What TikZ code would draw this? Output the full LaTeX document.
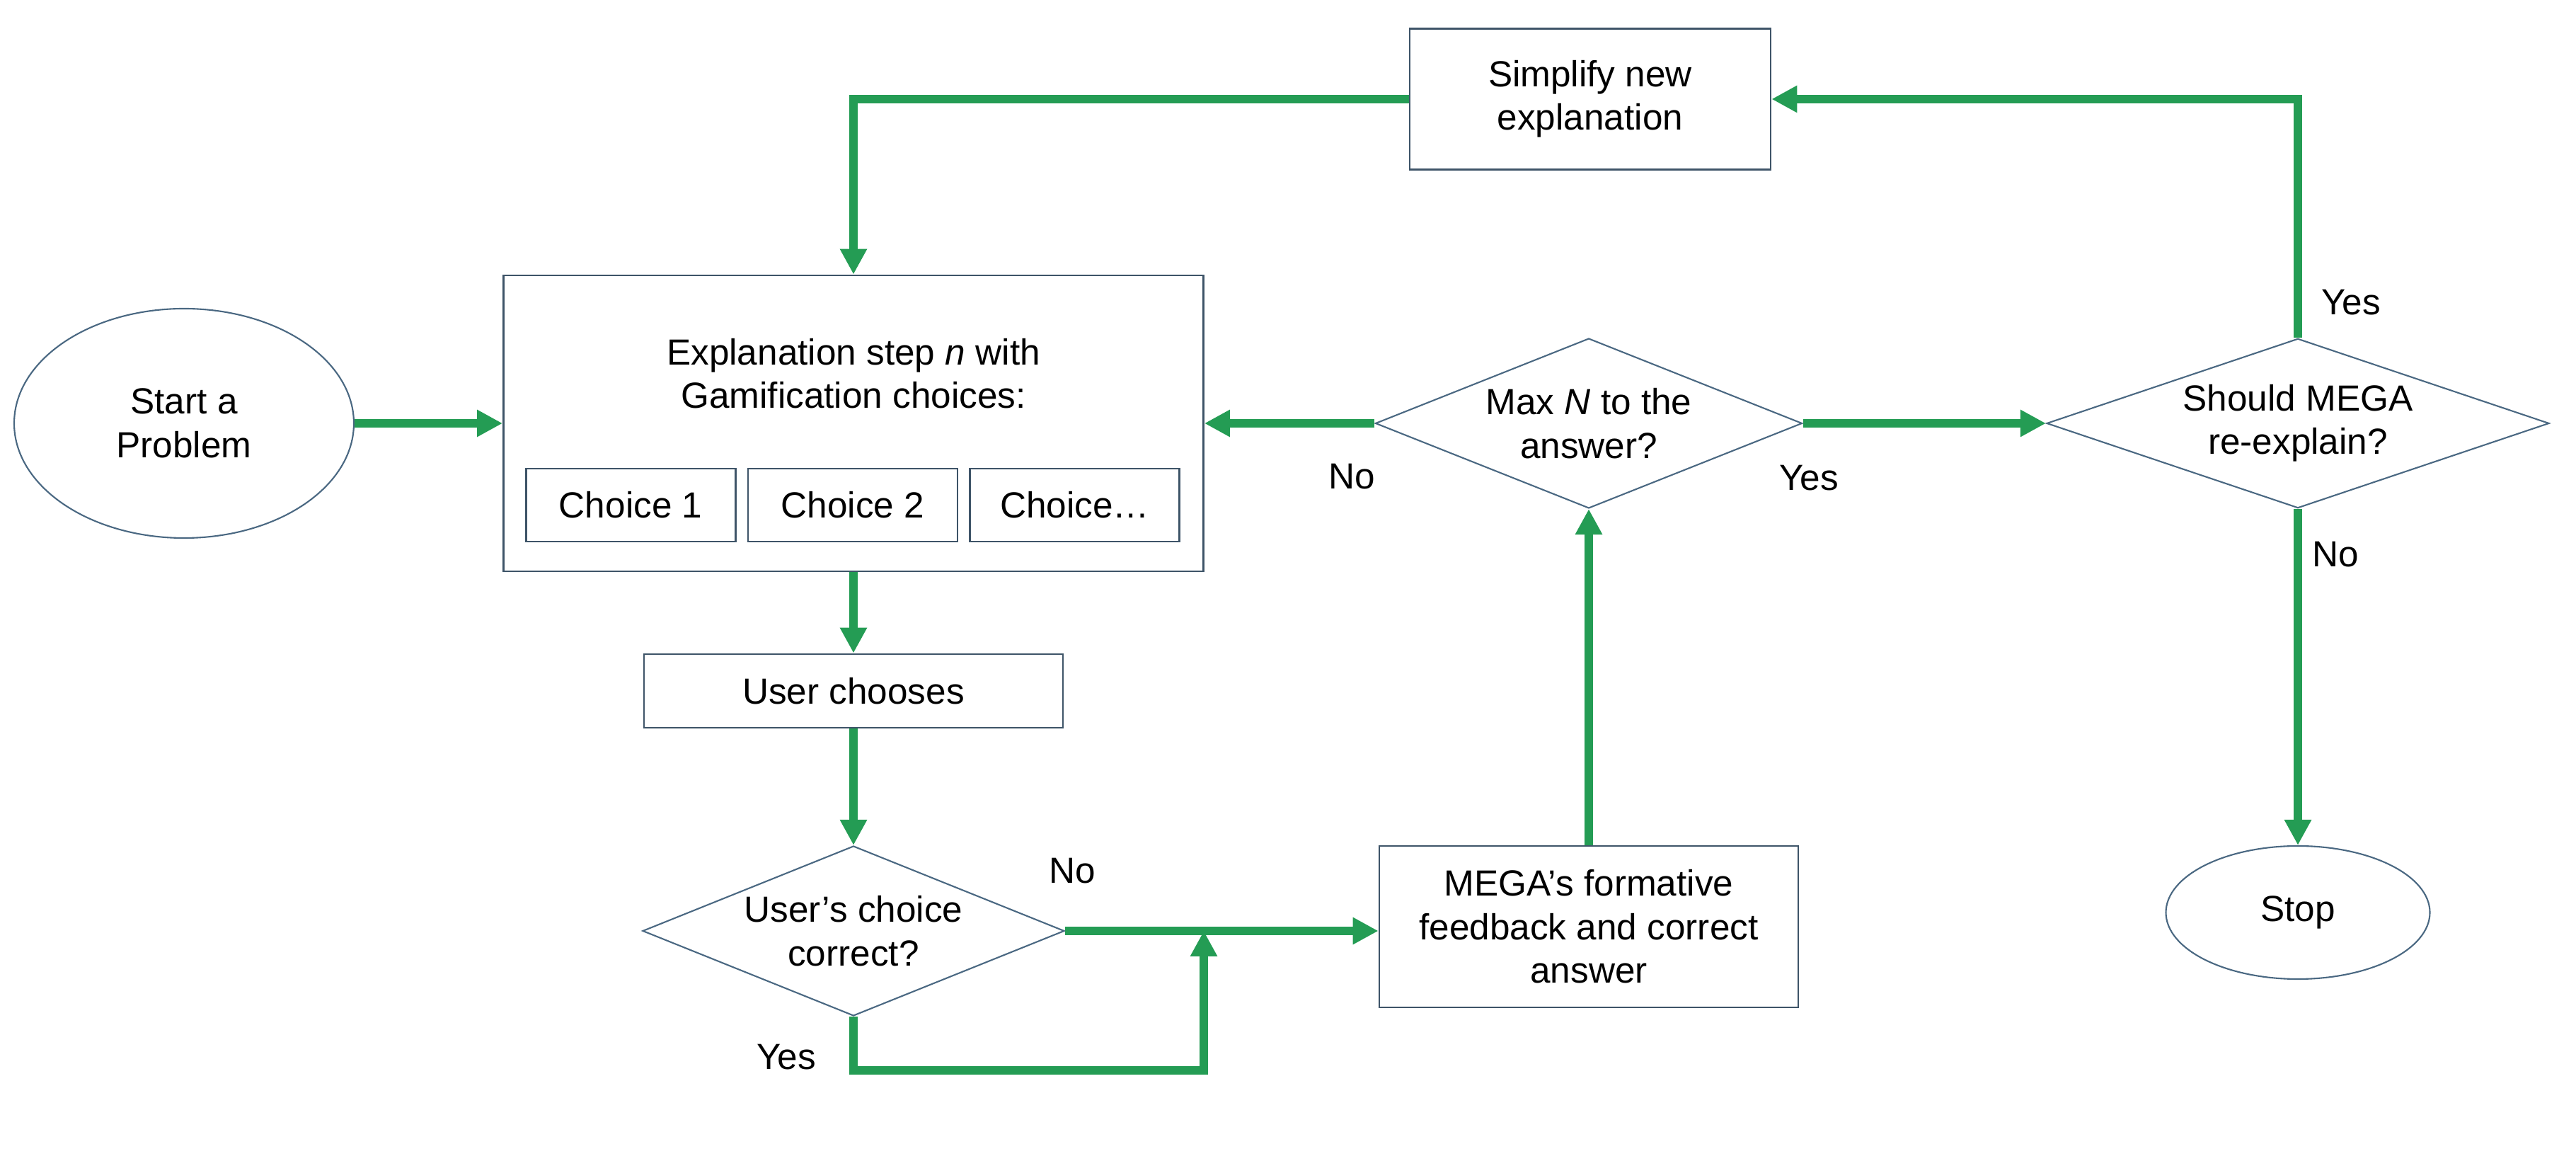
\documentclass[tikz,border=0pt]{standalone}
\usepackage{fontspec}
\setmainfont{Liberation Sans}
\usetikzlibrary{positioning,shapes.geometric,arrows.meta}
\definecolor{flowgreen}{RGB}{36,156,84}
\definecolor{boxline}{RGB}{62,84,104}
\definecolor{diamline}{RGB}{74,104,130}

\begin{document}
\begin{tikzpicture}[%
    >={Triangle[length=3.6mm,width=3.6mm]},
    every node/.style={font=\fontsize{14.6}{17.5}\selectfont},
    flow/.style={->,draw=flowgreen,line width=3.4pt},
    procbox/.style={%
      rectangle,
      draw=boxline,
      line width=0.8pt,
      align=center,
      inner sep=0pt
    },
    choicebox/.style={procbox,minimum width=2.96cm,minimum height=1.03cm},
    decision/.style={%
      diamond,
      aspect=2.5,
      draw=diamline,
      line width=0.6pt,
      align=center,
      inner sep=0pt
    },
    terminal/.style={ellipse,draw=diamline,line width=0.6pt,align=center,inner sep=0pt},
    answer/.style={inner sep=0pt}
  ]
    \useasboundingbox[fill=white] (0,0) rectangle (36.4,16.4);

    \node[terminal,minimum width=4.8cm,minimum height=3.24cm] (start) at (2.6,10.42)  {Start a\\Problem};
    \node[procbox,minimum width=9.89cm,minimum height=4.18cm] (expl) at (12.06,10.42) {};
    \node (expltext) at ([yshift=-1.4cm]expl.north) [align=center] {Explanation step \textit{n} with\\Gamification choices:};
    \node[choicebox] (choice2) at (12.05,9.265)                      {Choice 2};
    \node[choicebox] (choice1) [node distance=0.15cm,left=of choice2]  {Choice 1};
    \node[choicebox] (choice3) [node distance=0.15cm,right=of choice2] {Choice…};
    \node[procbox,minimum width=5.92cm,minimum height=1.04cm] (user) at (12.06,6.64) {User chooses};
    \node[decision,minimum width=5.96cm,minimum height=2.4cm] (ucheck) at (12.06,3.25) {User’s choice\\correct?};
    \node[procbox,minimum width=5.92cm,minimum height=2.28cm] (mega) at (22.45,3.31) {MEGA’s formative\\feedback and correct\\answer};
    \node[decision,minimum width=6.03cm,minimum height=2.4cm] (maxn) at (22.45,10.42) {Max \textit{N} to the\\answer?};
    \node[decision,minimum width=7.1cm,minimum height=2.37cm] (should) at (32.47,10.42) {Should MEGA\\re-explain?};
    \node[procbox,minimum width=5.1cm,minimum height=1.99cm] (simp) at (22.47,15.0) {Simplify new\\explanation};
    \node[terminal,minimum width=3.73cm,minimum height=1.88cm] (stop) at (32.47,3.51) {Stop};

    \coordinate (yesturn) at (17.01,1.28);

    % branch labels
    \node[answer] (nouser)    at (15.15,4.1)   {No};
    \node[answer] (yesuser)   at (11.11,1.47)  {Yes};
    \node[answer] (nomax)     at (19.1,9.67)   {No};
    \node[answer] (yesmax)    at (25.56,9.65)  {Yes};
    \node[answer] (yesshould) at (33.22,12.13) {Yes};
    \node[answer] (noshould)  at (33.0,8.57)   {No};

    \path (start)  edge[flow] (expl)
          (expl)   edge[flow] (user)
          (user)   edge[flow] (ucheck)
          (mega)   edge[flow] (maxn)
          (maxn)   edge[flow] (expl)
          (maxn)   edge[flow] (should)
          (should) edge[flow] (stop)
          ;
    \draw[flow] (ucheck.east) -- (ucheck.east -| mega.west);
    \draw[flow] (ucheck.south) |- (yesturn) -- (yesturn |- ucheck.east);
    \draw[flow] (should.north) |- (simp.east);
    \draw[flow] (simp.west) -| (expl.north);
  \end{tikzpicture}
\end{document}
